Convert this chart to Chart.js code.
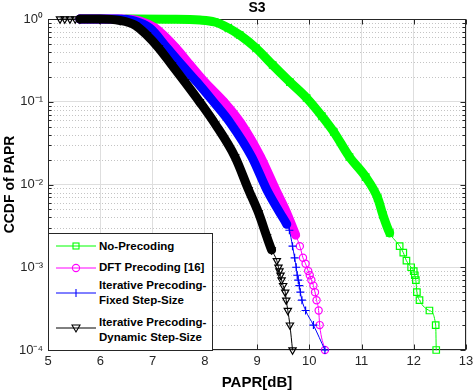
<!DOCTYPE html>
<html><head><meta charset="utf-8">
<script src="https://cdn.jsdelivr.net/npm/chart.js@4"></script>
<style>
html,body{margin:0;padding:0;background:#fff;}
#wrap{position:relative;width:474px;height:392px;overflow:hidden;}
canvas{display:block;}
#legend{position:absolute;left:48px;top:233px;width:165px;height:118px;box-sizing:border-box;border:1px solid #262626;background:#fff;font-family:"Liberation Sans",Arial,Helvetica,sans-serif;font-weight:bold;font-size:11.5px;color:#000;}
.ic{position:absolute;left:7px;width:40px;height:12px;}
.tx{position:absolute;left:50px;line-height:14.5px;white-space:nowrap;}
</style></head>
<body><div id="wrap"><canvas id="c" width="474" height="392"></canvas><div id="legend"></div></div>
<script>
// ---- data ----
const xNoPre = [6.50, 6.63, 7.30, 7.91, 8.19, 8.45, 8.67, 8.98, 9.30, 9.63, 9.95, 10.24, 10.47, 10.77, 11.08, 11.31, 11.41, 11.54, 11.73, 11.80, 11.86, 11.95, 12.00, 12.02, 12.04, 12.06, 12.11, 12.30, 12.42, 12.43];
const yNoPre = [1, 1, 0.995, 0.972, 0.92, 0.78, 0.641, 0.446, 0.278, 0.173, 0.111, 0.0673, 0.0431, 0.0215, 0.0123, 0.00687, 0.00428, 0.0026, 0.0018, 0.0015, 0.0012, 0.0010, 0.0009, 0.0008, 0.0007, 0.0005, 0.0004, 0.0003, 0.0002, 0.0001];

const xDFT = [5.61, 6.41, 6.76, 7.05, 7.45, 7.72, 8.00, 8.37, 8.69, 9.07, 9.36, 9.57, 9.74, 9.82, 9.88, 9.93, 9.98, 10.01, 10.04, 10.08, 10.11, 10.14, 10.18, 10.20, 10.30];
const yDFT = [1, 1, 0.946, 0.778, 0.446, 0.278, 0.173, 0.0993, 0.0554, 0.0215, 0.00859, 0.00453, 0.00245, 0.0018, 0.0013, 0.0011, 0.0009, 0.0008, 0.0007, 0.0006, 0.0005, 0.0004, 0.0003, 0.0002, 0.0001];

const xFixed = [5.61, 6.34, 6.66, 6.95, 7.28, 7.56, 7.85, 8.17, 8.49, 8.90, 9.19, 9.44, 9.57, 9.62, 9.68, 9.72, 9.75, 9.77, 9.79, 9.81, 9.83, 9.86, 9.93, 10.08, 10.30];
const yFixed = [1, 1, 0.946, 0.778, 0.446, 0.278, 0.173, 0.0993, 0.0554, 0.0215, 0.00859, 0.00453, 0.0033, 0.0028, 0.0018, 0.0013, 0.0010, 0.0008, 0.0007, 0.0006, 0.0005, 0.0004, 0.0003, 0.0002, 0.0001];

const xDynamic = [5.23, 5.32, 5.42, 5.52, 5.61, 5.99, 6.38, 6.66, 6.89, 7.12, 7.37, 7.62, 7.90, 8.20, 8.58, 8.84, 9.03, 9.19, 9.28, 9.38, 9.41, 9.43, 9.45, 9.47, 9.50, 9.54, 9.56, 9.59, 9.63, 9.68];
const yDynamic = [1, 1, 1, 1, 1, 1, 0.959, 0.846, 0.641, 0.446, 0.278, 0.173, 0.100, 0.0537, 0.0215, 0.00859, 0.00453, 0.00232, 0.00162, 0.0012, 0.0010, 0.0009, 0.0008, 0.0007, 0.0006, 0.0005, 0.0004, 0.0003, 0.0002, 0.0001];

const seriesNames = ['No-Precoding', 'DFT Precoding [16]', 'Iterative Precoding-\nFixed Step-Size', 'Iterative Precoding-\nDynamic Step-Size'];
const xTicks = [5, 6, 7, 8, 9, 10, 11, 12, 13];
const xTickLabels = ['5', '6', '7', '8', '9', '10', '11', '12', '13'];
const yTicks = [1e-4, 1e-3, 1e-2, 1e-1, 1];
const yTickLabels = ['10\u207B\u2074', '10\u207B\u00B3', '10\u207B\u00B2', '10\u207B\u00B9', '10\u2070'];

// ---- styling ----
const FONT = '"Liberation Sans", Arial, Helvetica, sans-serif';
Chart.defaults.font.family = FONT;
const AX = '#262626';

function mk(label, xs, ys, color, style, rot, radius, thr, xStart, order) {
  return {
    label,
    data: xs.map((x, i) => ({ x, y: ys[i] })),
    borderColor: color,
    backgroundColor: 'rgba(0,0,0,0)',
    borderWidth: 1,
    borderCapStyle: 'round',
    borderJoinStyle: 'round',
    segment: { borderWidth: ctx => (ctx.p1.parsed.y >= thr && ctx.p0.parsed.x >= xStart ? 9 : 1) },
    cubicInterpolationMode: 'monotone',
    pointStyle: style,
    pointRotation: rot,
    pointRadius: radius,
    pointBorderWidth: 1.2,
    pointBorderColor: color,
    pointBackgroundColor: 'rgba(0,0,0,0)',
    showLine: true,
    fill: false,
    clip: false,
    order
  };
}

const datasets = [
  mk(seriesNames[3], xDynamic, yDynamic, '#000000', 'triangle', 180, 4.2, 0.0016, 5.6, 0),
  mk(seriesNames[2], xFixed, yFixed, '#0000ff', 'cross', 0, 4, 0.0030, 0, 1),
  mk(seriesNames[1], xDFT, yDFT, '#ff00ff', 'circle', 0, 3.6, 0.0020, 0, 2),
  mk(seriesNames[0], xNoPre, yNoPre, '#00ff00', 'rect', 0, 4.6, 0.0025, 0, 3)
];

const yMinor = [];
for (let d = -4; d < 0; d++) for (let m = 2; m <= 9; m++) yMinor.push(m * Math.pow(10, d));

const frame = {
  id: 'frame',
  beforeDatasetsDraw(chart) {
    const { ctx, chartArea: a, scales: { x, y } } = chart;
    ctx.save();
    ctx.lineWidth = 1;
    ctx.strokeStyle = '#c4c4c4';
    ctx.setLineDash([1, 2]);
    for (const v of yMinor) {
      const py = Math.round(y.getPixelForValue(v)) + 0.5;
      ctx.beginPath(); ctx.moveTo(a.left, py); ctx.lineTo(a.right, py); ctx.stroke();
    }
    ctx.setLineDash([]);
    ctx.strokeStyle = AX;
    const L = Math.round(a.left) + 0.5, R = Math.round(a.right) - 0.5, T = Math.round(a.top) + 0.5, B = Math.round(a.bottom) - 0.5;
    ctx.strokeRect(L, T, R - L, B - T);
    ctx.beginPath();
    for (const v of xTicks) {
      const px = Math.round(x.getPixelForValue(v)) + 0.5;
      ctx.moveTo(px, B); ctx.lineTo(px, B - 5);
      ctx.moveTo(px, T); ctx.lineTo(px, T + 5);
    }
    for (const v of yTicks) {
      const py = Math.round(y.getPixelForValue(v)) + 0.5;
      ctx.moveTo(L, py); ctx.lineTo(L + 5, py);
      ctx.moveTo(R, py); ctx.lineTo(R - 5, py);
    }
    for (const v of yMinor) {
      const py = Math.round(y.getPixelForValue(v)) + 0.5;
      ctx.moveTo(L, py); ctx.lineTo(L + 3, py);
      ctx.moveTo(R, py); ctx.lineTo(R - 3, py);
    }
    ctx.stroke();
    ctx.restore();
  }
};

new Chart(document.getElementById('c'), {
  type: 'line',
  data: { datasets },
  plugins: [frame],
  options: {
    responsive: false,
    animation: false,
    devicePixelRatio: 1,
    layout: { padding: { left: 0, right: 8, top: 0, bottom: 0 } },
    plugins: {
      legend: { display: false },
      tooltip: { enabled: false },
      title: {
        display: true, text: 'S3', color: '#000', fullSize: false,
        font: { size: 14, weight: 'bold', lineHeight: 1 },
        padding: { top: 1, bottom: 4 }
      }
    },
    scales: {
      x: {
        type: 'linear', min: 5, max: 13,
        afterBuildTicks: s => { s.ticks = xTicks.map(v => ({ value: v })); },
        ticks: { callback: (v, i) => xTickLabels[i], color: AX, font: { size: 13 }, padding: 4, autoSkip: false, maxRotation: 0 },
        grid: { color: '#dedede', drawTicks: false, lineWidth: 1 },
        border: { display: false },
        title: { display: true, text: 'PAPR[dB]', color: '#000', font: { size: 15, weight: 'bold' }, padding: { top: 2, bottom: 0 } },
        afterFit: s => { s.height = 42; s.paddingLeft = 0; s.paddingRight = 0; }
      },
      y: {
        type: 'logarithmic', min: 1e-4, max: 1,
        afterBuildTicks: s => { s.ticks = yTicks.map(v => ({ value: v })); },
        ticks: { callback: (v, i) => yTickLabels[i], color: AX, font: { size: 13 }, padding: 5, autoSkip: false },
        grid: { color: '#dedede', drawTicks: false, lineWidth: 1 },
        border: { display: false },
        title: { display: true, text: 'CCDF of PAPR', color: '#000', font: { size: 14, weight: 'bold' }, padding: { top: 2, bottom: 0 } },
        afterFit: s => { s.width = 48; s.paddingTop = 0; s.paddingBottom = 0; }
      }
    }
  }
});

// ---- HTML legend ----
const legendRows = [
  { name: seriesNames[0], color: '#00ff00', icon: 'sq', iconY: 13, textTop: 5.5 },
  { name: seriesNames[1], color: '#ff00ff', icon: 'ci', iconY: 34.5, textTop: 27 },
  { name: seriesNames[2], color: '#0000ff', icon: 'pl', iconY: 59.5, textTop: 45 },
  { name: seriesNames[3], color: '#000000', icon: 'tr', iconY: 95, textTop: 82 }
];
function markerSvg(kind, c) {
  if (kind === 'sq') return `<rect x="17" y="3" width="6" height="6" fill="none" stroke="${c}" stroke-width="1.1"/>`;
  if (kind === 'ci') return `<circle cx="20" cy="6" r="3.6" fill="none" stroke="${c}" stroke-width="1.1"/>`;
  if (kind === 'pl') return `<line x1="20" y1="2" x2="20" y2="10" stroke="${c}" stroke-width="1.1"/>`;
  return `<polygon points="16,3 24,3 20,10" fill="none" stroke="${c}" stroke-width="1.1"/>`;
}
const lg = document.getElementById('legend');
let html = '';
for (const r of legendRows) {
  html += `<svg class="ic" style="top:${r.iconY - 6 - 1}px" viewBox="0 0 40 12"><line x1="0" y1="6" x2="40" y2="6" stroke="${r.color}" stroke-width="1"/>${markerSvg(r.icon, r.color)}</svg>`;
  html += `<div class="tx" style="top:${r.textTop - 1}px">${r.name.replace('\n', '<br>')}</div>`;
}
lg.innerHTML = html;
</script>
</body></html>
